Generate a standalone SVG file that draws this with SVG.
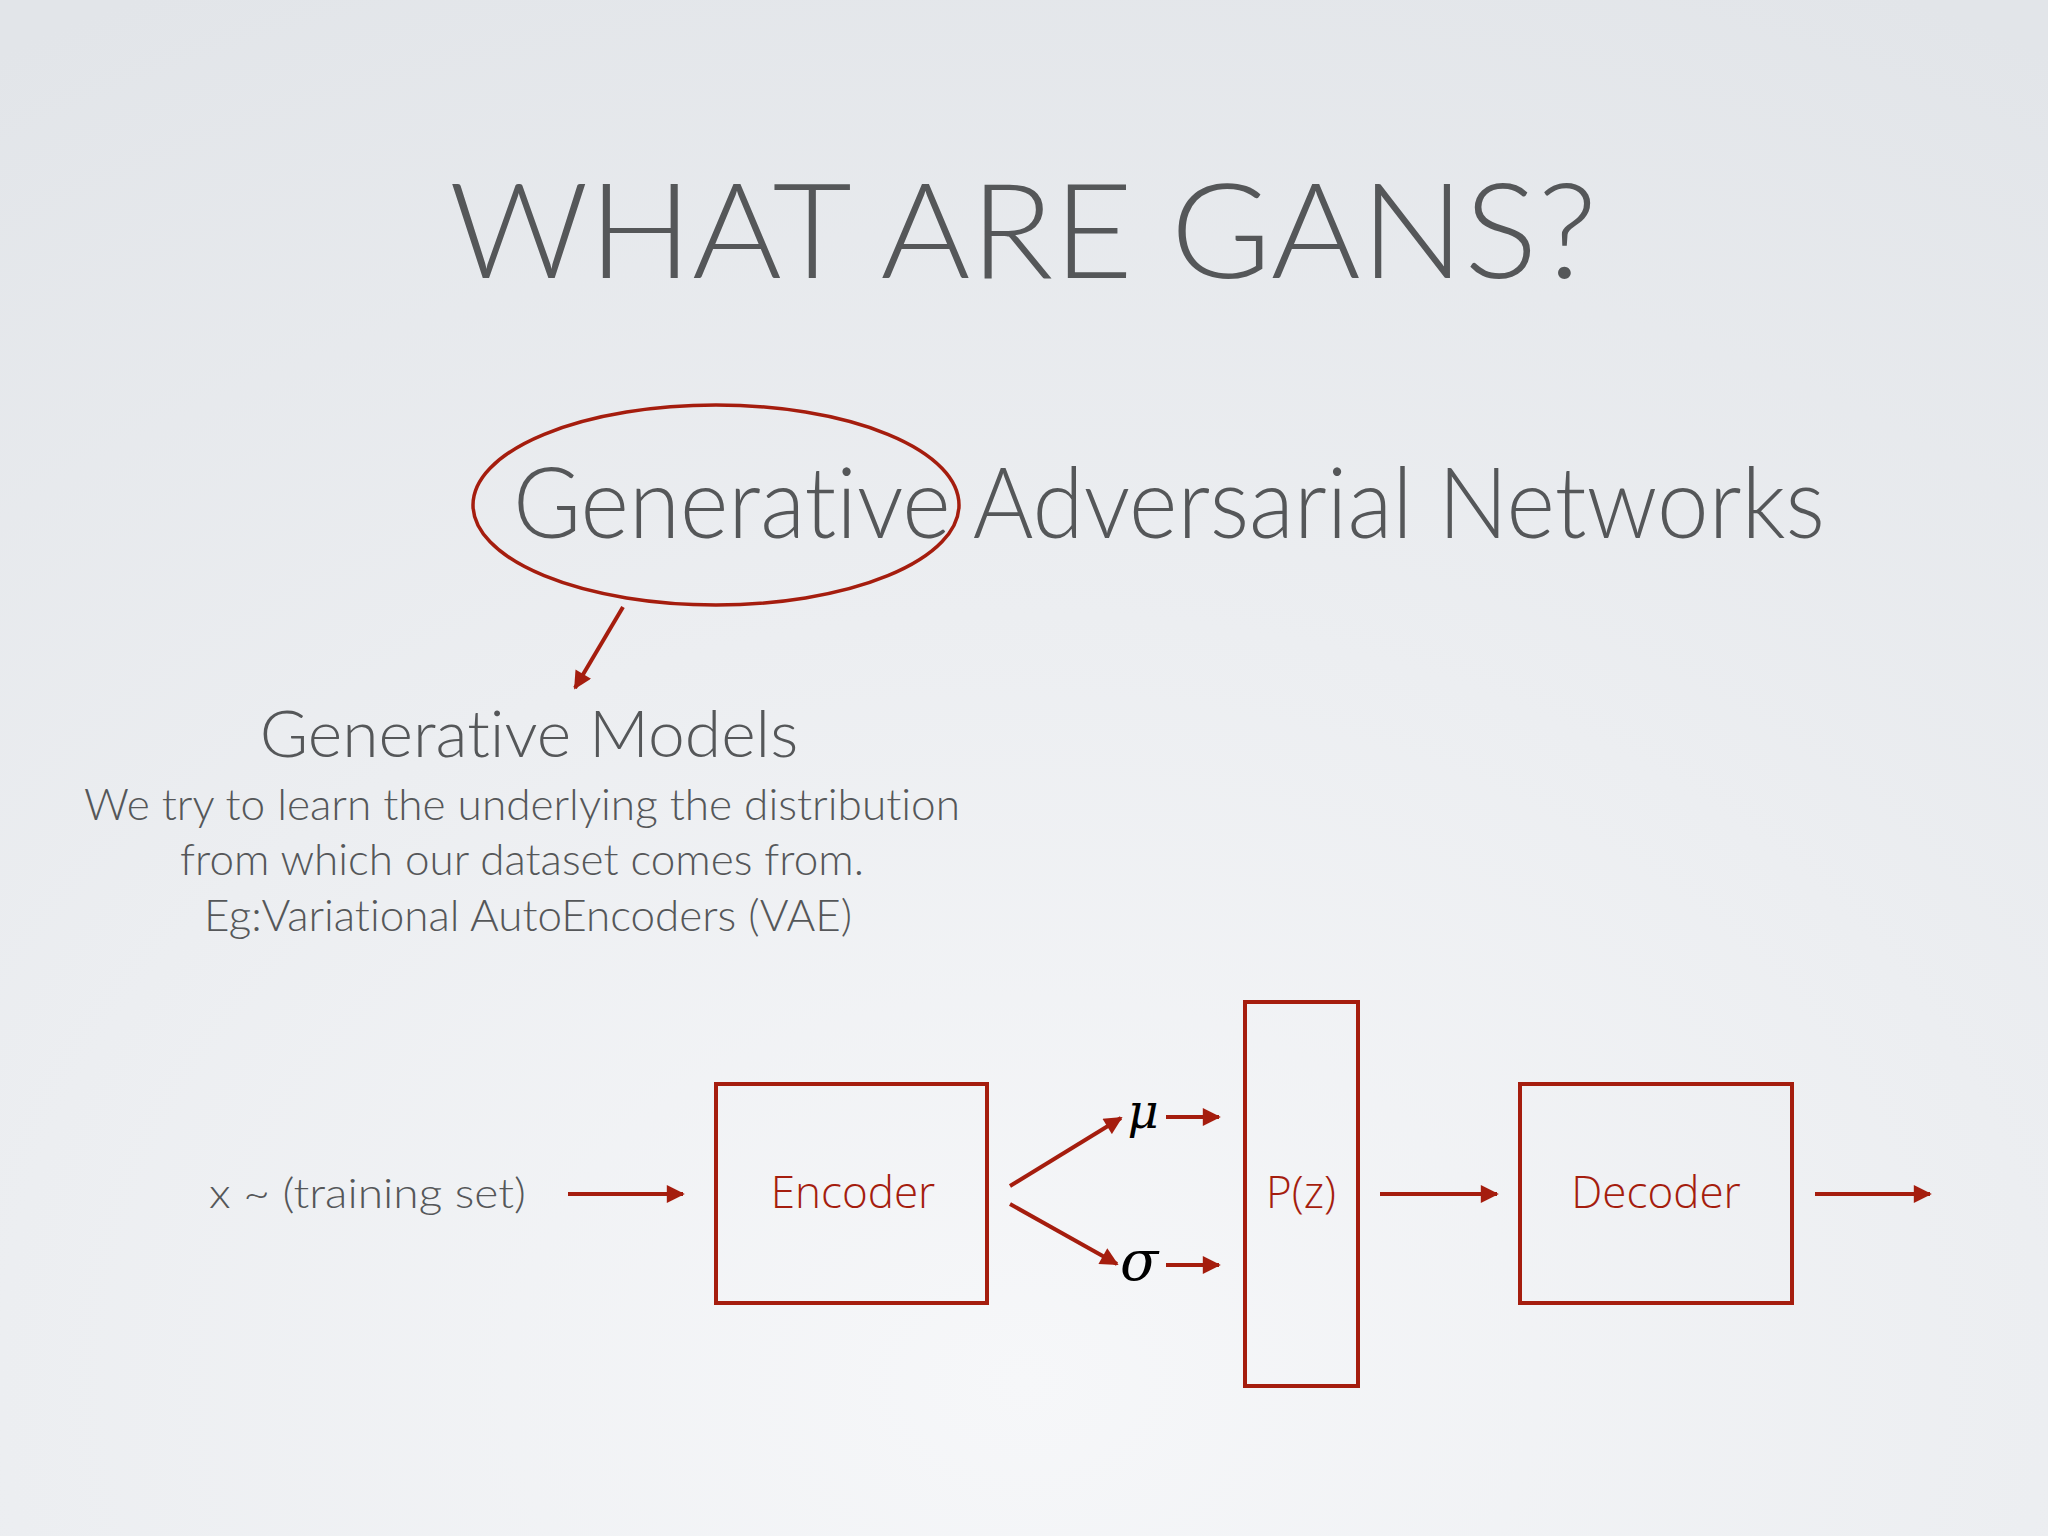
<svg xmlns="http://www.w3.org/2000/svg" width="2048" height="1536" viewBox="0 0 2048 1536">
<defs>
<radialGradient id="bg" cx="0.5" cy="0.9" r="1">
<stop offset="0" stop-color="#f6f7f9"/><stop offset="1" stop-color="#e2e5e9"/>
</radialGradient>
<marker id="ah" viewBox="0 0 10 10" refX="9" refY="5" markerWidth="5" markerHeight="4.5" orient="auto"><path d="M0,0 L10,5 L0,10 z" fill="#a51d0e"/></marker>
<style>
.t{font-family:Lato,"Open Sans",sans-serif;fill:#555759;font-variant-ligatures:none}
.r{font-family:"Open Sans",Lato,sans-serif;fill:#a51d0e;font-weight:300}
.box{fill:none;stroke:#a51d0e;stroke-width:4}
.c{stroke:#a51d0e;stroke-width:4;fill:none;marker-end:url(#ah)}
</style>
</defs>
<rect width="2048" height="1536" fill="url(#bg)"/>
<text class="t" x="1023" y="278" font-size="132" font-weight="300" text-anchor="middle" textLength="1148" lengthAdjust="spacingAndGlyphs">WHAT ARE GANS?</text>
<text class="t" x="513" y="538" font-size="98" font-weight="300" textLength="1312" lengthAdjust="spacingAndGlyphs">Generative Adversarial Networks</text>
<g id="highlight"><ellipse cx="716" cy="505" rx="243" ry="100" fill="none" stroke="#a51d0e" stroke-width="3.5"/></g>
<g id="models">
<text class="t" x="529" y="757" font-size="66" font-weight="300" text-anchor="middle">Generative Models</text>
<text class="t" font-size="44" font-weight="300" text-anchor="middle">
<tspan x="528" y="820" textLength="876" lengthAdjust="spacingAndGlyphs">We try to learn the underlying the distribution</tspan>
<tspan x="528" y="875">from which our dataset comes from.</tspan>
<tspan x="528" y="931">Eg:Variational AutoEncoders (VAE)</tspan></text>
</g>
<g id="input"><text class="t" x="209" y="1208" font-size="42" font-weight="300" textLength="317" lengthAdjust="spacingAndGlyphs">x ~ (training set)</text></g>
<g id="encoder"><rect class="box" x="716" y="1084" width="271" height="219"/><text class="r" x="853" y="1208" font-size="44" text-anchor="middle">Encoder</text></g>
<g id="mu"><text x="1143" y="1128" font-family="'DejaVu Serif',serif" font-style="italic" font-size="48" fill="#000" text-anchor="middle">μ</text></g>
<g id="sigma"><text x="1139" y="1280" font-family="'DejaVu Serif',serif" font-style="italic" font-size="56" fill="#000" text-anchor="middle">σ</text></g>
<g id="pz"><rect class="box" x="1245" y="1002" width="113" height="384"/><text class="r" x="1301" y="1208" font-size="44" text-anchor="middle">P(z)</text></g>
<g id="decoder"><rect class="box" x="1520" y="1084" width="272" height="219"/><text class="r" x="1656" y="1208" font-size="44" text-anchor="middle">Decoder</text></g>
<g id="connectors">
<line class="c" x1="623" y1="607" x2="575" y2="688"/>
<line class="c" x1="568" y1="1194" x2="683" y2="1194"/>
<line class="c" x1="1010" y1="1186" x2="1121" y2="1118"/>
<line class="c" x1="1010" y1="1204" x2="1117" y2="1264"/>
<line class="c" x1="1166" y1="1117" x2="1219" y2="1117"/>
<line class="c" x1="1166" y1="1265" x2="1219" y2="1265"/>
<line class="c" x1="1380" y1="1194" x2="1497" y2="1194"/>
<line class="c" x1="1815" y1="1194" x2="1930" y2="1194"/>
</g>
</svg>
